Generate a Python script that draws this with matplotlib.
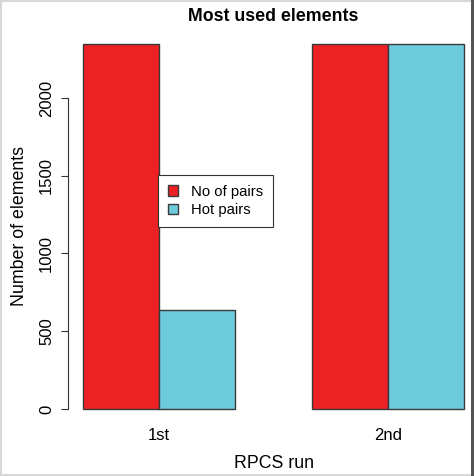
import matplotlib.pyplot as plt
from matplotlib.patches import Rectangle

runs = ["1st", "2nd"]
no_of_pairs = [2347, 2347]
hot_pairs = [637, 2347]
y_ticks = [0, 500, 1000, 1500, 2000]

plt.rcParams["font.family"] = ["Liberation Sans", "DejaVu Sans"]

W, H = 474, 476
fig = plt.figure(figsize=(W / 100, H / 100), dpi=100)

# plot region in pixels (R style, extends a bit past the right edge)
left, right, top, bottom = 67.8, 479.3, 29.4, 423.6
ax = fig.add_axes([left / W, 1 - bottom / H, (right - left) / W, (bottom - top) / H])

red = "#ED2024"
cyan = "#6ECBDC"
edge = "#3a3a3a"

# beside=TRUE bars, space=c(0,1)
x_red = [1.5, 4.5]
x_cyan = [2.5, 5.5]
ax.bar(x_red, no_of_pairs, width=1, color=red, edgecolor=edge, linewidth=1, label="No of pairs")
ax.bar(x_cyan, hot_pairs, width=1, color=cyan, edgecolor=edge, linewidth=1, label="Hot pairs")

ax.set_xlim(0.8, 6.2)
ax.set_ylim(-94, 2441)

for s in ["top", "right", "bottom"]:
    ax.spines[s].set_visible(False)
ax.spines["left"].set_bounds(0, 2000)
ax.spines["left"].set_color("#333333")

ax.set_yticks(y_ticks)
ax.set_yticklabels([str(v) for v in y_ticks], rotation=90, va="center", fontsize=12)
ax.tick_params(axis="y", length=5, width=0.8, pad=5, color="#333333")

ax.set_xticks([2, 5])
ax.set_xticklabels(runs, fontsize=12)
ax.tick_params(axis="x", length=0, pad=3)

ax.set_title("Most used elements", fontsize=12.8, fontweight="bold", pad=6)
ax.set_xlabel("RPCS run", fontsize=12.8, labelpad=9)
ax.set_ylabel("Number of elements", fontsize=12.8, labelpad=7.5)

leg = ax.legend(loc="upper left", bbox_to_anchor=(158 / W, 1 - 175 / H),
                bbox_transform=fig.transFigure, borderaxespad=0, fontsize=10.7,
                fancybox=False, framealpha=1, edgecolor="#333333",
                handlelength=0.7, handleheight=0.7, handletextpad=0.87,
                borderpad=0.66, labelspacing=0.3)
leg.get_frame().set_linewidth(0.8)

# image frame
fig.patches.append(Rectangle((0, 0), 1, 1, transform=fig.transFigure, fill=False,
                             edgecolor="#d8d8d8", linewidth=3, zorder=10))
fig.patches.append(Rectangle((471 / W, 0), 3 / W, 1, transform=fig.transFigure,
                             facecolor="#555555", edgecolor="none", zorder=11))

fig.savefig("out.png", dpi=100)
